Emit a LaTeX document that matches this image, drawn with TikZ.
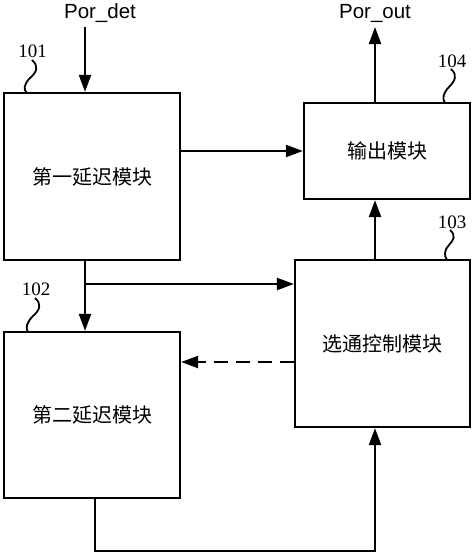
\documentclass[tikz,border=0pt]{standalone}
\usepackage{fontspec}
\setmainfont{Liberation Serif}
\newfontfamily\BlockFont{Noto Sans CJK SC}
\newfontfamily\SignalFont{Liberation Sans}
\usetikzlibrary{arrows.meta}

\begin{document}
\begin{tikzpicture}[x=1pt,y=-1pt,
    block/.style={draw,line width=2.2pt,inner sep=0pt,font=\BlockFont\fontsize{20}{24}\selectfont},
    wire/.style={line width=2.2pt},
    arr/.style={wire,-{Triangle[length=17pt,width=12pt]}},
    fbline/.style={arr,dash pattern=on 14pt off 8pt},
    tag/.style={anchor=base,inner sep=0pt,font=\fontsize{19}{22}\selectfont},
    sig/.style={anchor=base,inner sep=0pt,font=\SignalFont\fontsize{20.5}{24}\selectfont},
    squig/.style={line width=1.8pt}]
        \useasboundingbox (0,0) rectangle (474,554);
        % blocks
        \node[block,minimum width=176pt,minimum height=167pt] (delay1) at (92,176.5) {第一延迟模块};
        \node[block,minimum width=176pt,minimum height=166pt] (delay2) at (92,415) {第二延迟模块};
        \node[block,minimum width=166pt,minimum height=96pt] (output) at (387,151) {输出模块};
        \node[block,minimum width=175pt,minimum height=167pt] (select) at (382.5,343.5) {选通控制模块};
        % signals
        \node[sig] (pordet) at (100,18) {Por\_det};
        \node[sig] (porout) at (375,18) {Por\_out};
        \coordinate (detin) at (85,27);
        \coordinate (outtop) at (375,27);
        \coordinate (branch) at (85,284);
        \coordinate (fbstart) at ([yshift=-18.5pt]select.west);
        \coordinate (loop) at (95,551);
        % reference numbers
        \node[tag] (n101) at (32.5,57) {101};
        \node[tag] (n102) at (36,295) {102};
        \node[tag] (n103) at (452,228) {103};
        \node[tag] (n104) at (452,67) {104};
        \draw[squig] (32,60) .. controls (39,66) and (37,72) .. (30,78) .. controls (24,84) and (23,90) .. (27,93);
        \draw[squig] (35,298) .. controls (42,304) and (40,310) .. (33,316) .. controls (27,322) and (25,328) .. (28,332);
        \draw[squig] (450,230) .. controls (456,235) and (454,240) .. (449,245) .. controls (444,250) and (444,256) .. (447,260);
        \draw[squig] (451,69) .. controls (458,75) and (455,81) .. (449,87) .. controls (443,93) and (442,99) .. (445,103);
        % connections
        \draw[arr] (detin) -- (detin |- delay1.north);
        \draw[arr] (outtop |- output.north) -- (outtop);
        \draw[arr] (delay1.east |- output.west) -- (output.west);
        \draw[arr] (delay1.south -| detin) -- (delay2.north -| detin);
        \draw[arr] (branch) -- (branch -| select.west);
        \draw[arr] (select.north -| outtop) -- (output.south -| outtop);
        \draw[fbline] (fbstart) -- (fbstart -| delay2.east);
        \draw[arr] (delay2.south -| loop) -- (loop) -| (select.south -| outtop);
\end{tikzpicture}
\end{document}
